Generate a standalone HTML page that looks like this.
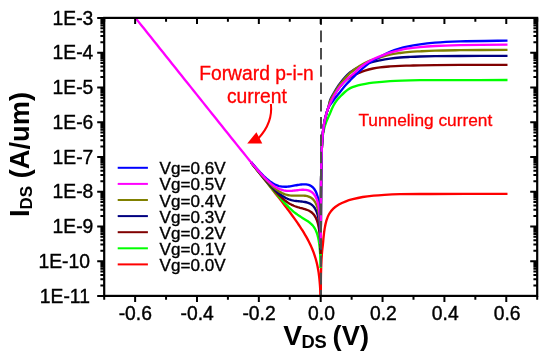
<!DOCTYPE html>
<html><head><meta charset="utf-8"><title>IDS-VDS</title>
<style>
html,body{margin:0;padding:0;background:#fff;width:550px;height:359px;overflow:hidden}
svg{display:block}
text{font-family:"Liberation Sans",Arial,sans-serif;fill:#000}
.tl{font-size:19.3px;stroke:#000;stroke-width:0.4px}
.lg{font-size:16.9px;stroke:#000;stroke-width:0.35px}
.an{font-size:19.3px;fill:#FF0000;stroke:#FF0000;stroke-width:0.3px}
.an2{font-size:17.3px;fill:#FF0000;stroke:#FF0000;stroke-width:0.3px}
.tt{font-size:27.3px;font-weight:bold}
.sub{font-size:17px}
.sub2{font-size:18.3px}
</style></head><body>
<svg width="550" height="359" viewBox="0 0 550 359">
<defs><clipPath id="pc"><rect x="104.20" y="17.90" width="433.00" height="278.00"/></clipPath></defs>
<rect width="550" height="359" fill="#fff"/>
<g clip-path="url(#pc)" fill="none" stroke-width="2.35" stroke-linejoin="round" stroke-linecap="butt">
<path d="M251.11,162.65 L254.20,166.53 L257.30,170.42 L260.39,174.31 L263.48,178.21 L266.58,182.11 L269.67,186.03 L272.76,189.97 L275.85,193.92 L278.95,197.89 L282.04,201.90 L285.13,205.95 L286.37,207.59 L287.61,209.23 L288.84,210.89 L290.08,212.56 L291.32,214.24 L292.56,215.94 L293.79,217.66 L295.03,219.40 L296.27,221.16 L297.50,222.95 L298.74,224.77 L299.98,226.62 L301.22,228.52 L302.45,230.46 L303.69,232.46 L304.93,234.52 L306.16,236.66 L307.40,238.89 L308.64,241.23 L309.88,243.71 L311.11,246.36 L312.35,249.23 L313.59,252.39 L314.51,255.03 L315.75,259.01 L316.74,262.77 L317.53,266.33 L318.17,269.71 L318.67,272.92 L319.08,275.97 L319.40,278.84 L319.66,281.54 L319.87,284.05 L320.04,286.38 L320.17,288.51 L320.27,290.45 L320.36,292.18 L320.43,293.72 L320.48,295.06 L320.53,296.23 L320.56,297.22 L320.59,298.07 L320.61,298.78 L320.63,299.37 L320.64,299.86 L320.65,300.27 L320.66,300.60 L320.67,300.87 L320.68,301.09 L320.68,301.27 L320.69,301.41 L320.69,301.53 L320.69,301.62 L320.69,301.70 L320.69,301.76 L320.70,301.80 L320.70,301.84 L320.70,301.87 L320.70,301.90 L320.70,301.92 L320.70,301.94 L320.70,301.95 L320.70,301.96 L320.70,301.97 L320.70,301.97 L320.70,301.98 L320.70,301.98 L320.70,301.99 L320.70,301.99 L320.70,301.99 L320.70,301.99 L320.70,301.99 L320.70,302.00 L320.70,302.00 L320.70,302.00 L320.70,302.00 L320.70,302.00 L320.70,302.00 L320.70,302.00" stroke="#FF0000"/>
<path d="M251.11,162.61 L254.20,166.47 L257.30,170.33 L260.39,174.18 L263.48,178.03 L266.58,181.85 L269.67,185.65 L272.76,189.41 L275.85,193.12 L278.95,196.74 L282.04,200.25 L285.13,203.61 L286.37,204.90 L287.61,206.15 L288.84,207.37 L290.08,208.54 L291.32,209.68 L292.56,210.77 L293.79,211.81 L295.03,212.80 L296.27,213.75 L297.50,214.65 L298.74,215.51 L299.98,216.33 L301.22,217.13 L302.45,217.89 L303.69,218.64 L304.93,219.40 L306.16,220.16 L307.40,220.96 L308.64,221.82 L309.88,222.77 L311.11,223.84 L312.35,225.10 L313.59,226.62 L314.51,228.00 L315.75,230.30 L316.74,232.71 L317.53,235.19 L318.17,237.71 L318.67,240.24 L319.08,242.76 L319.40,245.24 L319.66,247.64 L319.87,249.94 L320.04,252.12 L320.17,254.16 L320.27,256.05 L320.36,257.76 L320.43,259.30 L320.48,260.67 L320.53,261.86 L320.56,262.90 L320.59,263.79 L320.61,264.54 L320.63,265.17 L320.64,265.69 L320.65,266.12 L320.66,266.48 L320.67,266.77 L320.68,267.01 L320.68,267.20 L320.69,267.36 L320.69,267.48 L320.69,267.59 L320.69,267.67 L320.69,267.73 L320.70,267.79 L320.70,267.83 L320.70,267.86 L320.70,267.89 L320.70,267.91 L320.70,267.93 L320.70,267.94 L320.70,267.95 L320.70,267.96 L320.70,267.97 L320.70,267.98 L320.70,267.98 L320.70,267.99 L320.70,267.99 L320.70,267.99 L320.70,267.99 L320.70,267.99 L320.70,268.00 L320.70,268.00 L320.70,268.00 L320.70,268.00 L320.70,268.00 L320.70,268.00 L320.70,268.00" stroke="#00FF00"/>
<path d="M251.11,162.54 L254.20,166.38 L257.30,170.20 L260.39,173.99 L263.48,177.75 L266.58,181.45 L269.67,185.08 L272.76,188.59 L275.85,191.95 L278.95,195.11 L282.04,198.01 L285.13,200.58 L286.37,201.50 L287.61,202.37 L288.84,203.17 L290.08,203.91 L291.32,204.58 L292.56,205.19 L293.79,205.74 L295.03,206.24 L296.27,206.69 L297.50,207.09 L298.74,207.46 L299.98,207.81 L301.22,208.13 L302.45,208.46 L303.69,208.79 L304.93,209.14 L306.16,209.54 L307.40,210.00 L308.64,210.54 L309.88,211.19 L311.11,212.00 L312.35,213.02 L313.59,214.32 L314.51,215.54 L315.75,217.65 L316.74,219.92 L317.53,222.28 L318.17,224.72 L318.67,227.18 L319.08,229.63 L319.40,232.04 L319.66,234.38 L319.87,236.63 L320.04,238.75 L320.17,240.73 L320.27,242.56 L320.36,244.22 L320.43,245.71 L320.48,247.02 L320.53,248.17 L320.56,249.16 L320.59,250.01 L320.61,250.72 L320.63,251.32 L320.64,251.82 L320.65,252.23 L320.66,252.57 L320.67,252.84 L320.68,253.07 L320.68,253.25 L320.69,253.40 L320.69,253.51 L320.69,253.61 L320.69,253.69 L320.69,253.75 L320.70,253.80 L320.70,253.84 L320.70,253.87 L320.70,253.90 L320.70,253.92 L320.70,253.93 L320.70,253.95 L320.70,253.96 L320.70,253.97 L320.70,253.97 L320.70,253.98 L320.70,253.98 L320.70,253.99 L320.70,253.99 L320.70,253.99 L320.70,253.99 L320.70,253.99 L320.70,254.00 L320.70,254.00 L320.70,254.00 L320.70,254.00 L320.70,254.00 L320.70,254.00 L320.70,254.00" stroke="#800000"/>
<path d="M251.11,162.47 L254.20,166.28 L257.30,170.06 L260.39,173.78 L263.48,177.45 L266.58,181.01 L269.67,184.45 L272.76,187.69 L275.85,190.70 L278.95,193.39 L282.04,195.71 L285.13,197.60 L286.37,198.23 L287.61,198.79 L288.84,199.28 L290.08,199.71 L291.32,200.07 L292.56,200.38 L293.79,200.63 L295.03,200.84 L296.27,201.01 L297.50,201.16 L298.74,201.28 L299.98,201.40 L301.22,201.52 L302.45,201.65 L303.69,201.81 L304.93,202.00 L306.16,202.26 L307.40,202.59 L308.64,203.02 L309.88,203.58 L311.11,204.31 L312.35,205.26 L313.59,206.51 L314.51,207.71 L315.75,209.81 L316.74,212.08 L317.53,214.49 L318.17,216.98 L318.67,219.53 L319.08,222.09 L319.40,224.63 L319.66,227.12 L319.87,229.54 L320.04,231.85 L320.17,234.05 L320.27,236.10 L320.36,237.99 L320.43,239.71 L320.48,241.26 L320.53,242.63 L320.56,243.84 L320.59,244.88 L320.61,245.77 L320.63,246.52 L320.64,247.15 L320.65,247.68 L320.66,248.11 L320.67,248.47 L320.68,248.77 L320.68,249.00 L320.69,249.20 L320.69,249.35 L320.69,249.48 L320.69,249.58 L320.69,249.67 L320.70,249.73 L320.70,249.79 L320.70,249.83 L320.70,249.86 L320.70,249.89 L320.70,249.91 L320.70,249.93 L320.70,249.94 L320.70,249.95 L320.70,249.96 L320.70,249.97 L320.70,249.98 L320.70,249.98 L320.70,249.99 L320.70,249.99 L320.70,249.99 L320.70,249.99 L320.70,249.99 L320.70,250.00 L320.70,250.00 L320.70,250.00 L320.70,250.00 L320.70,250.00 L320.70,250.00" stroke="#000080"/>
<path d="M251.11,162.39 L254.20,166.16 L257.30,169.88 L260.39,173.52 L263.48,177.06 L266.58,180.46 L269.67,183.65 L272.76,186.58 L275.85,189.17 L278.95,191.35 L282.04,193.08 L285.13,194.33 L286.37,194.71 L287.61,195.01 L288.84,195.25 L290.08,195.42 L291.32,195.55 L292.56,195.63 L293.79,195.67 L295.03,195.68 L296.27,195.67 L297.50,195.64 L298.74,195.61 L299.98,195.59 L301.22,195.58 L302.45,195.60 L303.69,195.65 L304.93,195.76 L306.16,195.94 L307.40,196.20 L308.64,196.57 L309.88,197.09 L311.11,197.78 L312.35,198.70 L313.59,199.93 L314.51,201.12 L315.75,203.23 L316.74,205.53 L317.53,207.99 L318.17,210.54 L318.67,213.17 L319.08,215.83 L319.40,218.49 L319.66,221.13 L319.87,223.71 L320.04,226.23 L320.17,228.64 L320.27,230.92 L320.36,233.07 L320.43,235.06 L320.48,236.88 L320.53,238.52 L320.56,239.99 L320.59,241.27 L320.61,242.39 L320.63,243.36 L320.64,244.17 L320.65,244.86 L320.66,245.44 L320.67,245.92 L320.68,246.31 L320.68,246.63 L320.69,246.90 L320.69,247.11 L320.69,247.28 L320.69,247.42 L320.69,247.54 L320.70,247.63 L320.70,247.70 L320.70,247.76 L320.70,247.81 L320.70,247.85 L320.70,247.88 L320.70,247.90 L320.70,247.92 L320.70,247.94 L320.70,247.95 L320.70,247.96 L320.70,247.97 L320.70,247.97 L320.70,247.98 L320.70,247.98 L320.70,247.99 L320.70,247.99 L320.70,247.99 L320.70,247.99 L320.70,247.99 L320.70,248.00 L320.70,248.00 L320.70,248.00 L320.70,248.00" stroke="#808000"/>
<path d="M251.11,162.12 L254.20,165.76 L257.30,169.29 L260.39,172.66 L263.48,175.83 L266.58,178.72 L269.67,181.25 L272.76,183.34 L275.85,184.95 L278.95,186.03 L282.04,186.62 L285.13,186.77 L286.37,186.73 L287.61,186.64 L288.84,186.50 L290.08,186.34 L291.32,186.14 L292.56,185.93 L293.79,185.70 L295.03,185.46 L296.27,185.23 L297.50,185.01 L298.74,184.81 L299.98,184.63 L301.22,184.48 L302.45,184.38 L303.69,184.33 L304.93,184.34 L306.16,184.44 L307.40,184.63 L308.64,184.94 L309.88,185.41 L311.11,186.06 L312.35,186.95 L313.59,188.16 L314.51,189.34 L315.75,191.46 L316.74,193.78 L317.53,196.28 L318.17,198.89 L318.67,201.59 L319.08,204.34 L319.40,207.12 L319.66,209.90 L319.87,212.65 L320.04,215.35 L320.17,217.99 L320.27,220.53 L320.36,222.95 L320.43,225.25 L320.48,227.39 L320.53,229.36 L320.56,231.16 L320.59,232.78 L320.61,234.22 L320.63,235.48 L320.64,236.57 L320.65,237.51 L320.66,238.31 L320.67,238.98 L320.68,239.53 L320.68,239.99 L320.69,240.37 L320.69,240.69 L320.69,240.94 L320.69,241.15 L320.69,241.31 L320.70,241.45 L320.70,241.56 L320.70,241.64 L320.70,241.71 L320.70,241.77 L320.70,241.82 L320.70,241.85 L320.70,241.88 L320.70,241.91 L320.70,241.92 L320.70,241.94 L320.70,241.95 L320.70,241.96 L320.70,241.97 L320.70,241.98 L320.70,241.98 L320.70,241.98 L320.70,241.99 L320.70,241.99 L320.70,241.99 L320.70,241.99 L320.70,241.99 L320.70,242.00 L320.70,242.00" stroke="#0000FF"/>
<path d="M135.13,17.49 L138.22,21.36 L141.31,25.23 L144.41,29.10 L147.50,32.97 L150.59,36.84 L153.69,40.71 L156.78,44.58 L159.87,48.44 L162.96,52.31 L166.06,56.18 L169.15,60.05 L172.24,63.92 L175.34,67.79 L178.43,71.66 L181.52,75.53 L184.61,79.40 L187.71,83.27 L190.80,87.14 L193.89,91.01 L196.99,94.88 L200.08,98.75 L203.17,102.62 L206.26,106.49 L209.36,110.36 L212.45,114.23 L215.54,118.10 L218.64,121.96 L221.73,125.83 L224.82,129.70 L227.91,133.56 L231.01,137.42 L234.10,141.28 L237.19,145.13 L240.29,148.98 L243.38,152.80 L246.47,156.62 L249.56,160.40 L252.66,164.13 L255.75,167.81 L258.84,171.39 L261.94,174.85 L265.03,178.13 L268.12,181.16 L271.21,183.88 L274.31,186.21 L277.40,188.09 L280.49,189.47 L283.59,190.36 L284.82,190.58 L286.06,190.74 L287.30,190.84 L288.53,190.88 L289.77,190.87 L291.01,190.82 L292.25,190.74 L293.48,190.63 L294.72,190.50 L295.96,190.36 L297.19,190.21 L298.43,190.08 L299.67,189.95 L300.91,189.86 L302.14,189.79 L303.38,189.77 L304.62,189.80 L305.85,189.91 L307.09,190.11 L308.33,190.41 L309.57,190.85 L310.80,191.46 L312.04,192.30 L313.28,193.43 L314.51,194.95 L315.75,197.06 L316.74,199.37 L317.53,201.83 L318.17,204.41 L318.67,207.06 L319.08,209.76 L319.40,212.47 L319.66,215.17 L319.87,217.82 L320.04,220.41 L320.17,222.92 L320.27,225.31 L320.36,227.56 L320.43,229.67 L320.48,231.62 L320.53,233.39 L320.56,234.98 L320.59,236.39 L320.61,237.63 L320.63,238.70 L320.64,239.62 L320.65,240.40 L320.66,241.05 L320.67,241.60 L320.68,242.05 L320.68,242.42 L320.69,242.72 L320.69,242.97 L320.69,243.17 L320.69,243.33 L320.69,243.46 L320.70,243.57 L320.70,243.65 L320.70,243.72 L320.70,243.78 L320.70,243.82 L320.70,243.86 L320.70,243.89 L320.70,243.91 L320.70,243.93 L320.70,243.94 L320.70,243.95 L320.70,243.96 L320.70,243.97 L320.70,243.98 L320.70,243.98 L320.70,243.98 L320.70,243.99 L320.70,243.99 L320.70,243.99 L320.70,243.99 L320.70,243.99 L320.70,244.00 L320.70,244.00 L320.70,244.00" stroke="#FF00FF"/>
<path d="M320.70,302.00 C320.72,301.00 320.78,298.20 320.80,296.00 C320.83,293.30 320.82,290.31 320.85,287.00 C320.88,282.91 320.89,277.83 321.00,273.30 C321.11,268.83 321.27,264.06 321.50,260.00 C321.69,256.57 321.93,253.30 322.20,250.50 C322.41,248.27 322.68,246.63 322.90,244.50 C323.15,242.09 323.31,239.42 323.60,236.80 C323.90,234.06 324.22,231.14 324.70,228.40 C325.16,225.74 325.64,223.06 326.40,220.60 C327.12,218.27 327.93,216.00 329.10,214.00 C330.24,212.05 331.68,210.27 333.30,208.70 C334.94,207.10 336.86,205.71 338.90,204.50 C341.04,203.23 343.55,202.19 345.90,201.30 C348.18,200.44 350.28,199.86 352.80,199.20 C355.79,198.41 359.31,197.59 362.70,197.00 C366.23,196.38 369.96,195.97 373.60,195.60 C377.23,195.23 380.55,195.02 384.50,194.80 C389.21,194.54 393.99,194.34 400.00,194.20 C408.36,194.01 417.67,194.06 430.00,194.00 C449.82,193.91 494.58,193.83 507.50,193.80" stroke="#FF0000"/>
<path d="M320.70,268.00 C320.73,261.67 320.79,243.53 320.85,230.00 C320.92,214.48 320.96,193.81 321.10,180.00 C321.20,170.24 321.25,162.27 321.50,155.00 C321.70,149.36 321.87,144.36 322.30,140.00 C322.63,136.61 323.05,133.74 323.60,131.00 C324.08,128.64 324.50,126.87 325.30,124.50 C326.32,121.49 328.10,117.74 329.50,114.50 C330.83,111.41 332.08,108.11 333.50,105.50 C334.68,103.33 335.91,101.46 337.20,99.80 C338.32,98.35 339.51,97.22 340.70,96.00 C341.88,94.79 343.03,93.61 344.30,92.50 C345.59,91.37 346.99,90.20 348.40,89.30 C349.73,88.45 351.01,87.82 352.50,87.20 C354.17,86.50 356.01,85.94 358.00,85.40 C360.29,84.78 362.99,84.25 365.50,83.80 C367.99,83.35 369.99,83.06 373.00,82.70 C377.52,82.16 383.53,81.50 390.00,81.10 C398.58,80.57 409.28,80.37 420.00,80.20 C432.37,80.00 446.09,80.13 460.00,80.10 C475.15,80.07 499.58,80.02 507.50,80.00" stroke="#00FF00"/>
<path d="M320.70,254.00 C320.73,250.00 320.80,239.45 320.85,230.00 C320.93,216.36 320.93,193.81 321.10,180.00 C321.22,170.24 321.36,162.27 321.60,155.00 C321.79,149.36 321.98,144.61 322.30,140.00 C322.57,136.05 322.87,132.37 323.30,129.00 C323.67,126.11 324.08,123.57 324.60,121.00 C325.09,118.58 325.66,116.28 326.30,114.00 C326.93,111.78 327.57,109.66 328.40,107.50 C329.26,105.26 330.34,102.98 331.40,100.80 C332.44,98.65 333.38,96.70 334.70,94.50 C336.26,91.90 338.21,88.85 340.30,86.30 C342.38,83.75 345.02,81.02 347.20,79.20 C348.87,77.81 350.50,76.86 352.00,76.00 C353.23,75.29 354.38,74.80 355.50,74.30 C356.51,73.85 357.23,73.56 358.40,73.10 C360.15,72.41 362.67,71.34 365.00,70.60 C367.52,69.79 370.41,69.06 373.00,68.50 C375.40,67.98 377.45,67.63 380.00,67.30 C383.03,66.90 386.66,66.65 390.00,66.40 C393.33,66.15 396.67,65.93 400.00,65.80 C403.33,65.67 406.67,65.68 410.00,65.60 C413.33,65.52 416.33,65.38 420.00,65.30 C424.49,65.20 429.36,65.16 435.00,65.10 C442.27,65.02 450.34,64.95 460.00,64.90 C473.31,64.83 499.58,64.82 507.50,64.80" stroke="#800000"/>
<path d="M320.70,250.00 C320.73,246.67 320.80,238.17 320.85,230.00 C320.93,217.09 320.93,193.81 321.10,180.00 C321.22,170.24 321.36,162.27 321.60,155.00 C321.79,149.36 321.98,144.61 322.30,140.00 C322.57,136.05 322.87,132.37 323.30,129.00 C323.67,126.11 324.08,123.57 324.60,121.00 C325.09,118.58 325.66,116.28 326.30,114.00 C326.93,111.78 327.77,109.77 328.40,107.50 C329.08,105.06 329.32,102.13 330.20,99.80 C331.00,97.67 332.02,96.19 333.30,94.00 C335.06,90.99 337.38,86.93 340.00,83.50 C342.87,79.75 346.45,75.47 350.00,72.50 C353.16,69.85 356.57,67.87 360.00,66.20 C363.25,64.61 366.64,63.59 370.00,62.60 C373.30,61.63 376.66,60.97 380.00,60.30 C383.32,59.64 386.66,59.07 390.00,58.60 C393.33,58.13 396.66,57.78 400.00,57.50 C403.33,57.22 406.67,57.07 410.00,56.90 C413.33,56.73 416.33,56.61 420.00,56.50 C424.49,56.37 429.36,56.28 435.00,56.20 C442.27,56.10 450.34,56.06 460.00,56.00 C473.31,55.92 499.58,55.83 507.50,55.80" stroke="#000080"/>
<path d="M320.70,248.00 C320.73,245.00 320.80,237.50 320.85,230.00 C320.93,217.50 320.93,193.81 321.10,180.00 C321.22,170.24 321.36,162.27 321.60,155.00 C321.79,149.36 321.98,144.61 322.30,140.00 C322.57,136.05 322.87,132.37 323.30,129.00 C323.67,126.11 324.08,123.57 324.60,121.00 C325.09,118.58 325.66,116.28 326.30,114.00 C326.93,111.78 327.72,109.74 328.40,107.50 C329.12,105.14 329.55,102.50 330.50,100.20 C331.43,97.94 332.63,96.11 334.00,93.80 C335.69,90.96 337.61,87.66 340.00,84.50 C342.80,80.81 346.49,76.42 350.00,73.20 C353.19,70.28 356.58,67.94 360.00,65.80 C363.26,63.77 366.60,62.00 370.00,60.60 C373.27,59.25 376.66,58.50 380.00,57.50 C383.33,56.50 386.64,55.35 390.00,54.60 C393.31,53.86 396.66,53.45 400.00,53.00 C403.33,52.55 406.66,52.18 410.00,51.90 C413.33,51.62 416.33,51.50 420.00,51.30 C424.49,51.06 429.36,50.78 435.00,50.60 C442.27,50.37 450.34,50.31 460.00,50.20 C473.31,50.05 499.58,49.95 507.50,49.90" stroke="#808000"/>
<path d="M320.70,242.00 C320.73,240.00 320.80,235.37 320.85,230.00 C320.95,219.04 320.93,193.81 321.10,180.00 C321.22,170.24 321.36,162.27 321.60,155.00 C321.79,149.36 321.98,144.61 322.30,140.00 C322.57,136.05 322.87,132.37 323.30,129.00 C323.67,126.11 324.08,123.57 324.60,121.00 C325.09,118.58 325.66,116.28 326.30,114.00 C326.93,111.78 327.37,109.58 328.40,107.50 C329.49,105.30 331.24,103.30 332.80,101.20 C334.43,99.00 336.06,97.03 338.00,94.60 C340.41,91.58 343.75,87.27 346.20,84.50 C348.02,82.44 349.34,81.19 351.20,79.30 C353.50,76.97 356.43,73.97 359.00,71.60 C361.36,69.43 363.62,67.46 366.00,65.60 C368.29,63.80 370.62,62.09 373.00,60.60 C375.29,59.17 377.44,58.12 380.00,56.80 C383.02,55.24 386.62,53.30 390.00,51.90 C393.29,50.54 396.95,49.41 400.00,48.50 C402.53,47.75 404.30,47.30 407.00,46.70 C410.66,45.89 415.50,44.97 420.00,44.30 C424.81,43.58 429.36,43.07 435.00,42.60 C442.27,42.00 450.34,41.62 460.00,41.30 C473.31,40.86 499.58,40.72 507.50,40.60" stroke="#0000FF"/>
<path d="M320.70,244.00 C320.73,241.67 320.80,236.10 320.85,230.00 C320.94,218.47 320.93,193.81 321.10,180.00 C321.22,170.24 321.36,162.27 321.60,155.00 C321.79,149.36 321.98,144.61 322.30,140.00 C322.57,136.05 322.87,132.37 323.30,129.00 C323.67,126.11 324.08,123.57 324.60,121.00 C325.09,118.58 325.66,116.28 326.30,114.00 C326.93,111.78 327.57,109.66 328.40,107.50 C329.26,105.26 330.34,102.98 331.40,100.80 C332.44,98.65 333.38,96.70 334.70,94.50 C336.26,91.90 338.22,88.88 340.30,86.30 C342.39,83.71 344.84,81.22 347.20,79.00 C349.42,76.91 351.84,75.25 354.00,73.30 C356.10,71.41 357.93,69.22 360.00,67.50 C361.94,65.88 363.89,64.56 366.00,63.20 C368.21,61.78 370.63,60.35 373.00,59.20 C375.30,58.09 377.45,57.39 380.00,56.40 C383.03,55.22 386.64,53.66 390.00,52.60 C393.30,51.56 396.96,50.78 400.00,50.10 C402.53,49.53 404.30,49.14 407.00,48.70 C410.66,48.11 415.51,47.54 420.00,47.10 C424.82,46.63 429.36,46.30 435.00,46.00 C442.27,45.62 450.34,45.41 460.00,45.20 C473.31,44.92 499.58,44.78 507.50,44.70" stroke="#FF00FF"/>
</g>
<path d="M321.00,13.3 V295.90" stroke="#4d4d4d" stroke-width="2" stroke-dasharray="11.6 5.7" clip-path="url(#pc)"/>
<rect x="104.20" y="17.90" width="433.00" height="278.00" fill="none" stroke="#000" stroke-width="2.2"/>
<path d="M104.20,295.90 V299.70 M104.20,17.90 V21.70 M135.13,295.90 V301.90 M135.13,17.90 V23.90 M166.06,295.90 V299.70 M166.06,17.90 V21.70 M196.99,295.90 V301.90 M196.99,17.90 V23.90 M227.91,295.90 V299.70 M227.91,17.90 V21.70 M258.84,295.90 V301.90 M258.84,17.90 V23.90 M289.77,295.90 V299.70 M289.77,17.90 V21.70 M320.70,295.90 V301.90 M320.70,17.90 V23.90 M351.63,295.90 V299.70 M351.63,17.90 V21.70 M382.56,295.90 V301.90 M382.56,17.90 V23.90 M413.49,295.90 V299.70 M413.49,17.90 V21.70 M444.41,295.90 V301.90 M444.41,17.90 V23.90 M475.34,295.90 V299.70 M475.34,17.90 V21.70 M506.27,295.90 V301.90 M506.27,17.90 V23.90 M537.20,295.90 V299.70 M537.20,17.90 V21.70 M104.20,295.90 H97.20 M537.20,295.90 H530.20 M104.20,285.44 H100.40 M537.20,285.44 H533.40 M104.20,279.32 H100.40 M537.20,279.32 H533.40 M104.20,274.98 H100.40 M537.20,274.98 H533.40 M104.20,271.61 H100.40 M537.20,271.61 H533.40 M104.20,268.86 H100.40 M537.20,268.86 H533.40 M104.20,266.53 H100.40 M537.20,266.53 H533.40 M104.20,264.52 H100.40 M537.20,264.52 H533.40 M104.20,262.74 H100.40 M537.20,262.74 H533.40 M104.20,261.15 H97.20 M537.20,261.15 H530.20 M104.20,250.69 H100.40 M537.20,250.69 H533.40 M104.20,244.57 H100.40 M537.20,244.57 H533.40 M104.20,240.23 H100.40 M537.20,240.23 H533.40 M104.20,236.86 H100.40 M537.20,236.86 H533.40 M104.20,234.11 H100.40 M537.20,234.11 H533.40 M104.20,231.78 H100.40 M537.20,231.78 H533.40 M104.20,229.77 H100.40 M537.20,229.77 H533.40 M104.20,227.99 H100.40 M537.20,227.99 H533.40 M104.20,226.40 H97.20 M537.20,226.40 H530.20 M104.20,215.94 H100.40 M537.20,215.94 H533.40 M104.20,209.82 H100.40 M537.20,209.82 H533.40 M104.20,205.48 H100.40 M537.20,205.48 H533.40 M104.20,202.11 H100.40 M537.20,202.11 H533.40 M104.20,199.36 H100.40 M537.20,199.36 H533.40 M104.20,197.03 H100.40 M537.20,197.03 H533.40 M104.20,195.02 H100.40 M537.20,195.02 H533.40 M104.20,193.24 H100.40 M537.20,193.24 H533.40 M104.20,191.65 H97.20 M537.20,191.65 H530.20 M104.20,181.19 H100.40 M537.20,181.19 H533.40 M104.20,175.07 H100.40 M537.20,175.07 H533.40 M104.20,170.73 H100.40 M537.20,170.73 H533.40 M104.20,167.36 H100.40 M537.20,167.36 H533.40 M104.20,164.61 H100.40 M537.20,164.61 H533.40 M104.20,162.28 H100.40 M537.20,162.28 H533.40 M104.20,160.27 H100.40 M537.20,160.27 H533.40 M104.20,158.49 H100.40 M537.20,158.49 H533.40 M104.20,156.90 H97.20 M537.20,156.90 H530.20 M104.20,146.44 H100.40 M537.20,146.44 H533.40 M104.20,140.32 H100.40 M537.20,140.32 H533.40 M104.20,135.98 H100.40 M537.20,135.98 H533.40 M104.20,132.61 H100.40 M537.20,132.61 H533.40 M104.20,129.86 H100.40 M537.20,129.86 H533.40 M104.20,127.53 H100.40 M537.20,127.53 H533.40 M104.20,125.52 H100.40 M537.20,125.52 H533.40 M104.20,123.74 H100.40 M537.20,123.74 H533.40 M104.20,122.15 H97.20 M537.20,122.15 H530.20 M104.20,111.69 H100.40 M537.20,111.69 H533.40 M104.20,105.57 H100.40 M537.20,105.57 H533.40 M104.20,101.23 H100.40 M537.20,101.23 H533.40 M104.20,97.86 H100.40 M537.20,97.86 H533.40 M104.20,95.11 H100.40 M537.20,95.11 H533.40 M104.20,92.78 H100.40 M537.20,92.78 H533.40 M104.20,90.77 H100.40 M537.20,90.77 H533.40 M104.20,88.99 H100.40 M537.20,88.99 H533.40 M104.20,87.40 H97.20 M537.20,87.40 H530.20 M104.20,76.94 H100.40 M537.20,76.94 H533.40 M104.20,70.82 H100.40 M537.20,70.82 H533.40 M104.20,66.48 H100.40 M537.20,66.48 H533.40 M104.20,63.11 H100.40 M537.20,63.11 H533.40 M104.20,60.36 H100.40 M537.20,60.36 H533.40 M104.20,58.03 H100.40 M537.20,58.03 H533.40 M104.20,56.02 H100.40 M537.20,56.02 H533.40 M104.20,54.24 H100.40 M537.20,54.24 H533.40 M104.20,52.65 H97.20 M537.20,52.65 H530.20 M104.20,42.19 H100.40 M537.20,42.19 H533.40 M104.20,36.07 H100.40 M537.20,36.07 H533.40 M104.20,31.73 H100.40 M537.20,31.73 H533.40 M104.20,28.36 H100.40 M537.20,28.36 H533.40 M104.20,25.61 H100.40 M537.20,25.61 H533.40 M104.20,23.28 H100.40 M537.20,23.28 H533.40 M104.20,21.27 H100.40 M537.20,21.27 H533.40 M104.20,19.49 H100.40 M537.20,19.49 H533.40 M104.20,17.90 H97.20 M537.20,17.90 H530.20" stroke="#000" stroke-width="2" fill="none"/>
<text x="93.30" y="24.50" class="tl" text-anchor="end">1E-3</text>
<text x="93.30" y="59.25" class="tl" text-anchor="end">1E-4</text>
<text x="93.30" y="94.00" class="tl" text-anchor="end">1E-5</text>
<text x="93.30" y="128.75" class="tl" text-anchor="end">1E-6</text>
<text x="93.30" y="163.50" class="tl" text-anchor="end">1E-7</text>
<text x="93.30" y="198.25" class="tl" text-anchor="end">1E-8</text>
<text x="93.30" y="233.00" class="tl" text-anchor="end">1E-9</text>
<text x="89.90" y="267.75" class="tl" text-anchor="end">1E-10</text>
<text x="89.90" y="302.50" class="tl" text-anchor="end">1E-11</text>
<text x="135.33" y="319.8" class="tl" text-anchor="middle">-0.6</text>
<text x="197.19" y="319.8" class="tl" text-anchor="middle">-0.4</text>
<text x="259.04" y="319.8" class="tl" text-anchor="middle">-0.2</text>
<text x="321.50" y="319.8" class="tl" text-anchor="middle">0.0</text>
<text x="383.36" y="319.8" class="tl" text-anchor="middle">0.2</text>
<text x="445.21" y="319.8" class="tl" text-anchor="middle">0.4</text>
<text x="507.07" y="319.8" class="tl" text-anchor="middle">0.6</text>
<path d="M117.7,167.80 H147.9" stroke="#0000FF" stroke-width="2"/>
<text x="159.6" y="174.30" class="lg" textLength="66" lengthAdjust="spacingAndGlyphs">Vg=0.6V</text>
<path d="M117.7,183.90 H147.9" stroke="#FF00FF" stroke-width="2"/>
<text x="159.6" y="190.40" class="lg" textLength="66" lengthAdjust="spacingAndGlyphs">Vg=0.5V</text>
<path d="M117.7,200.00 H147.9" stroke="#808000" stroke-width="2"/>
<text x="159.6" y="206.50" class="lg" textLength="66" lengthAdjust="spacingAndGlyphs">Vg=0.4V</text>
<path d="M117.7,216.10 H147.9" stroke="#000080" stroke-width="2"/>
<text x="159.6" y="222.60" class="lg" textLength="66" lengthAdjust="spacingAndGlyphs">Vg=0.3V</text>
<path d="M117.7,232.20 H147.9" stroke="#800000" stroke-width="2"/>
<text x="159.6" y="238.70" class="lg" textLength="66" lengthAdjust="spacingAndGlyphs">Vg=0.2V</text>
<path d="M117.7,248.30 H147.9" stroke="#00FF00" stroke-width="2"/>
<text x="159.6" y="254.80" class="lg" textLength="66" lengthAdjust="spacingAndGlyphs">Vg=0.1V</text>
<path d="M117.7,264.40 H147.9" stroke="#FF0000" stroke-width="2"/>
<text x="159.6" y="270.90" class="lg" textLength="66" lengthAdjust="spacingAndGlyphs">Vg=0.0V</text>
<text x="256.5" y="80.4" class="an" text-anchor="middle">Forward p-i-n</text>
<text x="256.9" y="103.4" class="an" text-anchor="middle">current</text>
<text x="358.4" y="126.3" class="an2">Tunneling current</text>
<path d="M270.9,104 C272.5,118 268,128 258.5,138.2" stroke="#FF0000" stroke-width="2" fill="none"/>
<polygon points="247.2,143.5 256.4,132.3 262.3,143.5" fill="#FF0000"/>
<text transform="translate(28.8,217.1) rotate(-90)" class="tt">I<tspan class="sub" dy="3">DS</tspan><tspan dy="-3"> (A/um)</tspan></text>
<text x="283.2" y="344.5" class="tt" textLength="18.8" lengthAdjust="spacingAndGlyphs">V</text><text x="301.4" y="348" class="tt sub2">DS</text><text x="332.6" y="344.5" class="tt">(V)</text>
</svg>
</body></html>
